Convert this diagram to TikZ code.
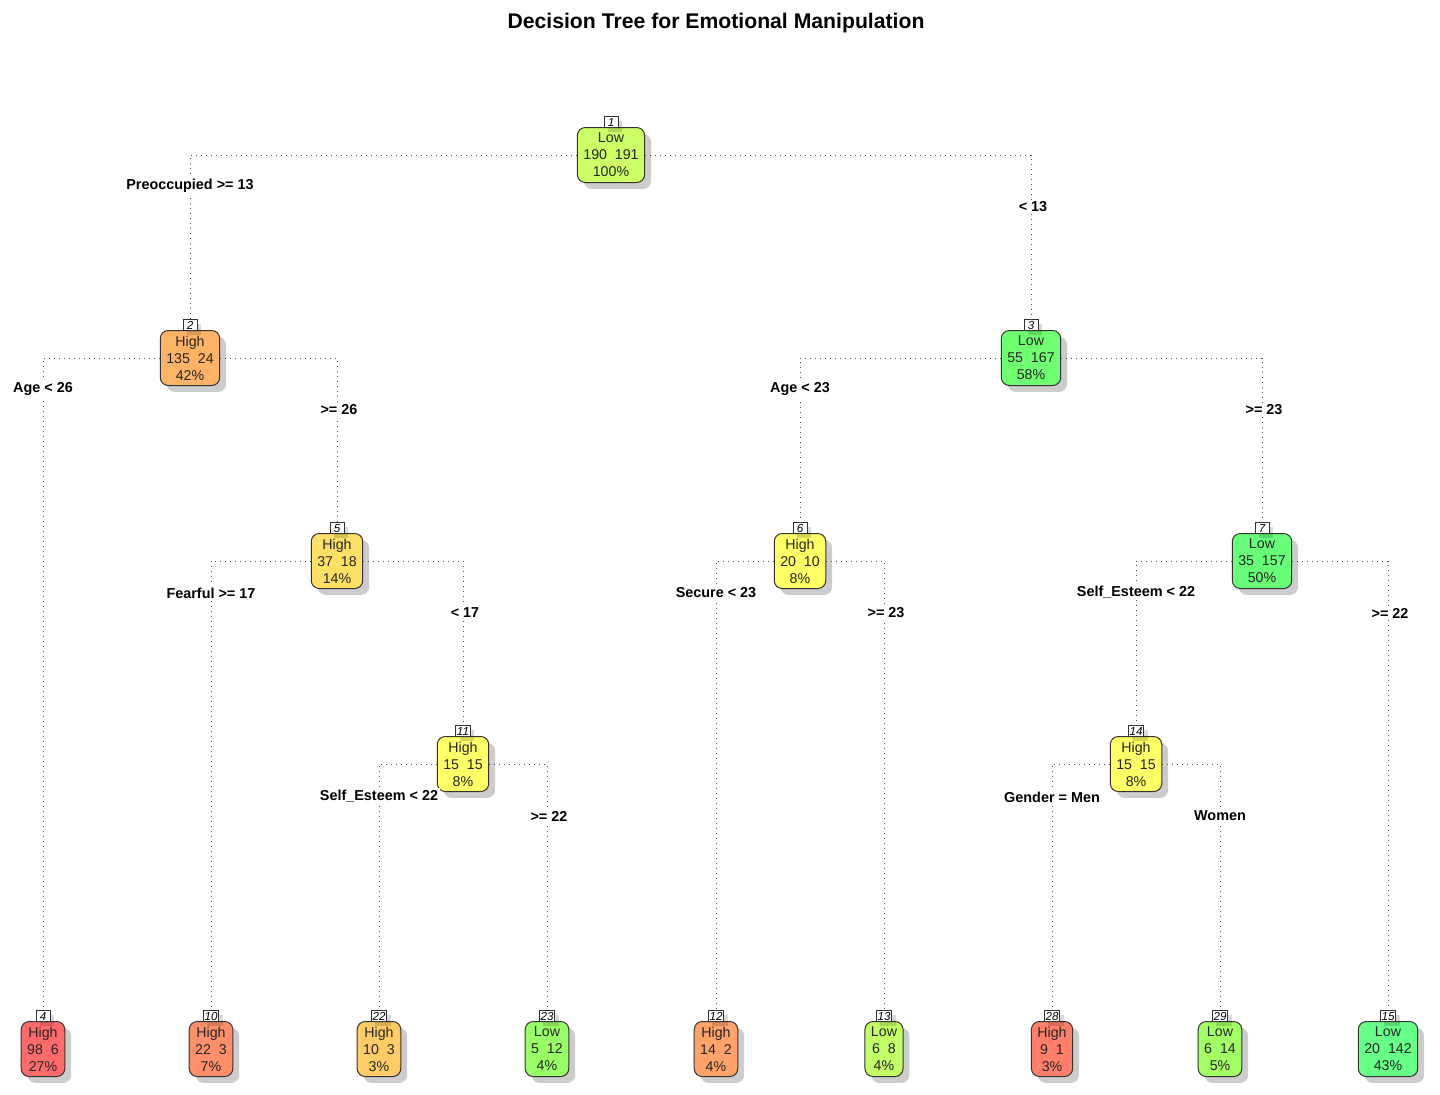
\documentclass[tikz,border=0pt]{standalone}
\usepackage{fontspec}
\setmainfont{Liberation Sans}
\usepackage{xcolor}
\usepackage{tikz}
\usetikzlibrary{positioning,shadows}
\definecolor{HiA}{HTML}{FF6B6B}
\definecolor{HiB}{HTML}{FF7F6B}
\definecolor{HiC}{HTML}{FF8F6B}
\definecolor{HiD}{HTML}{FFA36B}
\definecolor{HiE}{HTML}{FFB366}
\definecolor{HiF}{HTML}{FFCC66}
\definecolor{HiG}{HTML}{FFE066}
\definecolor{Mid}{HTML}{FFFF66}
\definecolor{LoA}{HTML}{CCFF66}
\definecolor{LoB}{HTML}{C2FF66}
\definecolor{LoC}{HTML}{A3FF66}
\definecolor{LoD}{HTML}{99FF66}
\definecolor{LoE}{HTML}{70FF70}
\definecolor{LoF}{HTML}{66FF77}
\definecolor{LoG}{HTML}{66FF88}

\begin{document}
\begin{tikzpicture}[x=0.5pt,y=-0.5pt,
  box/.style={draw=black!80,line width=0.5pt,rounded corners=4pt,align=center,inner xsep=3pt,inner ysep=1pt,minimum height=27.5pt,font=\fontsize{7.1}{8.5}\selectfont,text=black!85,drop shadow={shadow xshift=3.2pt,shadow yshift=-3.2pt,fill=black,opacity=0.2}},
  numbox/.style={draw=black!80,fill=white,line width=0.4pt,inner sep=0.6pt,minimum width=7pt,minimum height=5.5pt,font=\itshape\fontsize{5.8}{5.8}\selectfont,drop shadow={shadow xshift=2pt,shadow yshift=-2pt,fill=black,opacity=0.15}},
  edge/.style={dotted,line width=0.5pt,black!70},
  split/.style={fill=white,inner sep=1pt,font=\bfseries\fontsize{7.2}{8}\selectfont}]
  \fill[white] (0,0) rectangle (1440,1094);
  \useasboundingbox (0,0) rectangle (1440,1094);

  \node[font=\bfseries\fontsize{10.6}{12}\selectfont] (title) at (716,23) {Decision Tree for Emotional Manipulation};

  % inner splits
  \node[box,fill=LoA] (n1) at (611,155) {Low\\190\ \ 191\\100\%};
  \node[box,fill=HiE] (n2) at (190,358) {High\\135\ \ 24\\42\%};
  \node[box,fill=LoE] (n3) at (1031,358) {Low\\55\ \ 167\\58\%};
  \node[box,fill=HiG] (n5) at (337,561) {High\\37\ \ 18\\14\%};
  \node[box,fill=Mid] (n6) at (800,561) {High\\20\ \ 10\\8\%};
  \node[box,fill=LoF] (n7) at (1262,561) {Low\\35\ \ 157\\50\%};
  \node[box,fill=Mid] (n11) at (463,764) {High\\15\ \ 15\\8\%};
  \node[box,fill=Mid] (n14) at (1136,764) {High\\15\ \ 15\\8\%};

  % leaves
  \node[box,fill=HiA] (n4) at (43,1049) {High\\98\ \ 6\\27\%};
  \node[box,fill=HiC] (n10) at (211,1049) {High\\22\ \ 3\\7\%};
  \node[box,fill=HiF] (n22) at (379,1049) {High\\10\ \ 3\\3\%};
  \node[box,fill=LoD] (n23) at (547,1049) {Low\\5\ \ 12\\4\%};
  \node[box,fill=HiD] (n12) at (716,1049) {High\\14\ \ 2\\4\%};
  \node[box,fill=LoB] (n13) at (884,1049) {Low\\6\ \ 8\\4\%};
  \node[box,fill=HiB] (n28) at (1052,1049) {High\\9\ \ 1\\3\%};
  \node[box,fill=LoC] (n29) at (1220,1049) {Low\\6\ \ 14\\5\%};
  \node[box,fill=LoG] (n15) at (1388,1049) {Low\\20\ \ 142\\43\%};

  % node numbers
  \node[numbox,above=-0.5pt of n1] (l1) {1};
  \node[numbox,above=-0.5pt of n2] (l2) {2};
  \node[numbox,above=-0.5pt of n3] (l3) {3};
  \node[numbox,above=-0.5pt of n5] (l5) {5};
  \node[numbox,above=-0.5pt of n6] (l6) {6};
  \node[numbox,above=-0.5pt of n7] (l7) {7};
  \node[numbox,above=-0.5pt of n11] (l11) {11};
  \node[numbox,above=-0.5pt of n14] (l14) {14};
  \node[numbox,above=-0.5pt of n4] (l4) {4};
  \node[numbox,above=-0.5pt of n10] (l10) {10};
  \node[numbox,above=-0.5pt of n22] (l22) {22};
  \node[numbox,above=-0.5pt of n23] (l23) {23};
  \node[numbox,above=-0.5pt of n12] (l12) {12};
  \node[numbox,above=-0.5pt of n13] (l13) {13};
  \node[numbox,above=-0.5pt of n28] (l28) {28};
  \node[numbox,above=-0.5pt of n29] (l29) {29};
  \node[numbox,above=-0.5pt of n15] (l15) {15};

  % branches
  \draw[edge] (n1) -| (l2);
  \draw[edge] (n1) -| (l3);
  \draw[edge] (n2) -| (l4);
  \draw[edge] (n2) -| (l5);
  \draw[edge] (n3) -| (l6);
  \draw[edge] (n3) -| (l7);
  \draw[edge] (n5) -| (l10);
  \draw[edge] (n5) -| (l11);
  \draw[edge] (n6) -| (l12);
  \draw[edge] (n6) -| (l13);
  \draw[edge] (n7) -| (l14);
  \draw[edge] (n7) -| (l15);
  \draw[edge] (n11) -| (l22);
  \draw[edge] (n11) -| (l23);
  \draw[edge] (n14) -| (l28);
  \draw[edge] (n14) -| (l29);

  % split labels
  \node[split] (s1l) at (190,186) {Preoccupied >= 13};
  \node[split] (s1r) at (1033,207) {< 13};
  \node[split] (s2l) at (43,389) {Age < 26};
  \node[split] (s2r) at (339,410) {>= 26};
  \node[split] (s3l) at (800,389) {Age < 23};
  \node[split] (s3r) at (1264,410) {>= 23};
  \node[split] (s5l) at (211,593) {Fearful >= 17};
  \node[split] (s5r) at (465,613) {< 17};
  \node[split] (s6l) at (716,593) {Secure < 23};
  \node[split] (s6r) at (886,613) {>= 23};
  \node[split] (s7l) at (1136,592) {Self\_Esteem < 22};
  \node[split] (s7r) at (1390,613) {>= 22};
  \node[split] (s11l) at (379,796) {Self\_Esteem < 22};
  \node[split] (s11r) at (549,816) {>= 22};
  \node[split] (s14l) at (1052,797) {Gender = Men};
  \node[split] (s14r) at (1220,816) {Women};
\end{tikzpicture}
\end{document}
